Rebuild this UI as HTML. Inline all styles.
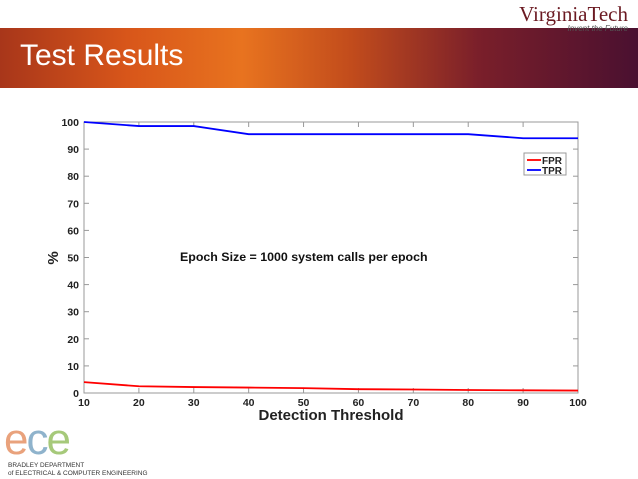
<!DOCTYPE html>
<html><head><meta charset="utf-8"><style>
body{margin:0;width:638px;height:479px;overflow:hidden;background:#fff;font-family:"Liberation Sans",sans-serif}
#banner{position:absolute;left:0;top:28px;width:638px;height:60px;background:linear-gradient(90deg,#a8361a 0%,#d8561a 20%,#e8731f 38%,#c24c1c 55%,#7a1f2a 75%,#4a1030 100%)}
#title{position:absolute;left:20px;top:39px;color:#fff;font-size:30px}
#vt{position:absolute;right:10px;top:2px;font-family:"Liberation Serif",serif;font-size:21px;color:#6b1a22}
#vt small{display:block;font-family:"Liberation Sans",sans-serif;font-style:italic;font-size:8px;color:#555;text-align:right;margin-top:-3px}
#ece{position:absolute;left:4px;top:418px;font-size:44px;line-height:44px;letter-spacing:-2px}
#ecesub{position:absolute;left:8px;top:462px;font-size:6.5px;line-height:8px;color:#333}
</style></head><body>
<div id="banner"></div>
<div id="title">Test Results</div>
<div id="vt">VirginiaTech<small>Invent the Future</small></div>
<div id="ece"><span style="color:#e9a27c">e</span><span style="color:#8fb3cc">c</span><span style="color:#a6c97a">e</span></div>
<div id="ecesub">BRADLEY DEPARTMENT<br>of ELECTRICAL &amp; COMPUTER ENGINEERING</div>
<svg id="chart" width="638" height="479" style="position:absolute;left:0;top:0"></svg>
<script>
const categories=[10,20,30,40,50,60,70,80,90,100];
const fprValues=[4,2.5,2.2,2,1.8,1.4,1.3,1.1,1,0.9];
const tprValues=[100,98.5,98.5,95.5,95.5,95.5,95.5,95.5,94,94];
const yTicks=[0,10,20,30,40,50,60,70,80,90,100];
const xTicks=[10,20,30,40,50,60,70,80,90,100];
const NS="http://www.w3.org/2000/svg";
const svg=document.getElementById('chart');
const L=84,R=578,T=122,B=393;
const xs=v=>L+(v-10)/90*(R-L);
const ys=v=>B-v/100*(B-T);
function mk(tag,attrs,parent){const e=document.createElementNS(NS,tag);for(const k in attrs)e.setAttribute(k,attrs[k]);(parent||svg).appendChild(e);return e;}
const frame=mk('rect',{x:L,y:T,width:R-L,height:B-T,fill:'#fff',stroke:'#999','stroke-width':1});


yTicks.forEach(v=>{
  const y=ys(v);
  mk('line',{x1:L,x2:L+5,y1:y,y2:y,stroke:'#999'});
  mk('line',{x1:R-5,x2:R,y1:y,y2:y,stroke:'#999'});
  const t=mk('text',{x:L-5,y:y+4,'text-anchor':'end','font-size':10.5,'font-weight':'bold',fill:'#222'});
  t.textContent=v;
  
  
});
xTicks.forEach(v=>{
  const x=xs(v);
  mk('line',{x1:x,x2:x,y1:B,y2:B-5,stroke:'#999'});
  mk('line',{x1:x,x2:x,y1:T,y2:T+5,stroke:'#999'});
  const t=mk('text',{x:x,y:B+13,'text-anchor':'middle','font-size':10.5,'font-weight':'bold',fill:'#222'});
  t.textContent=v;
  
  
});
function series(vals,color,name){
  const p=mk('polyline',{points:vals.map((v,i)=>xs(categories[i])+','+ys(v)).join(' '),fill:'none',stroke:color,'stroke-width':1.8});
  
  
}
series(fprValues,'#f00','fpr-line');
series(tprValues,'#00f','tpr-line');
const xl=mk('text',{x:331,y:420,'text-anchor':'middle','font-size':15,'font-weight':'bold',fill:'#222'});
xl.textContent='Detection Threshold';


const yl=mk('text',{x:0,y:0,transform:'translate(58,258) rotate(-90)','text-anchor':'middle','font-size':15,'font-weight':'bold',fill:'#222'});
yl.textContent='%';


const an=mk('text',{x:180,y:261,'font-size':12.4,'font-weight':'bold',fill:'#111'});
an.textContent='Epoch Size = 1000 system calls per epoch';


const lg=mk('g',{});


mk('rect',{x:524,y:153,width:42,height:22,fill:'#fff',stroke:'#999'},lg);
[['FPR','#f00',160],['TPR','#00f',170]].forEach(([n,c,y])=>{
  mk('line',{x1:527,x2:541,y1:y,y2:y,stroke:c,'stroke-width':1.8},lg);
  const t=mk('text',{x:542,y:y+4,'font-size':10,'font-weight':'bold',fill:'#222'},lg);
  t.textContent=n;
  
  
});
</script>
</body></html>
